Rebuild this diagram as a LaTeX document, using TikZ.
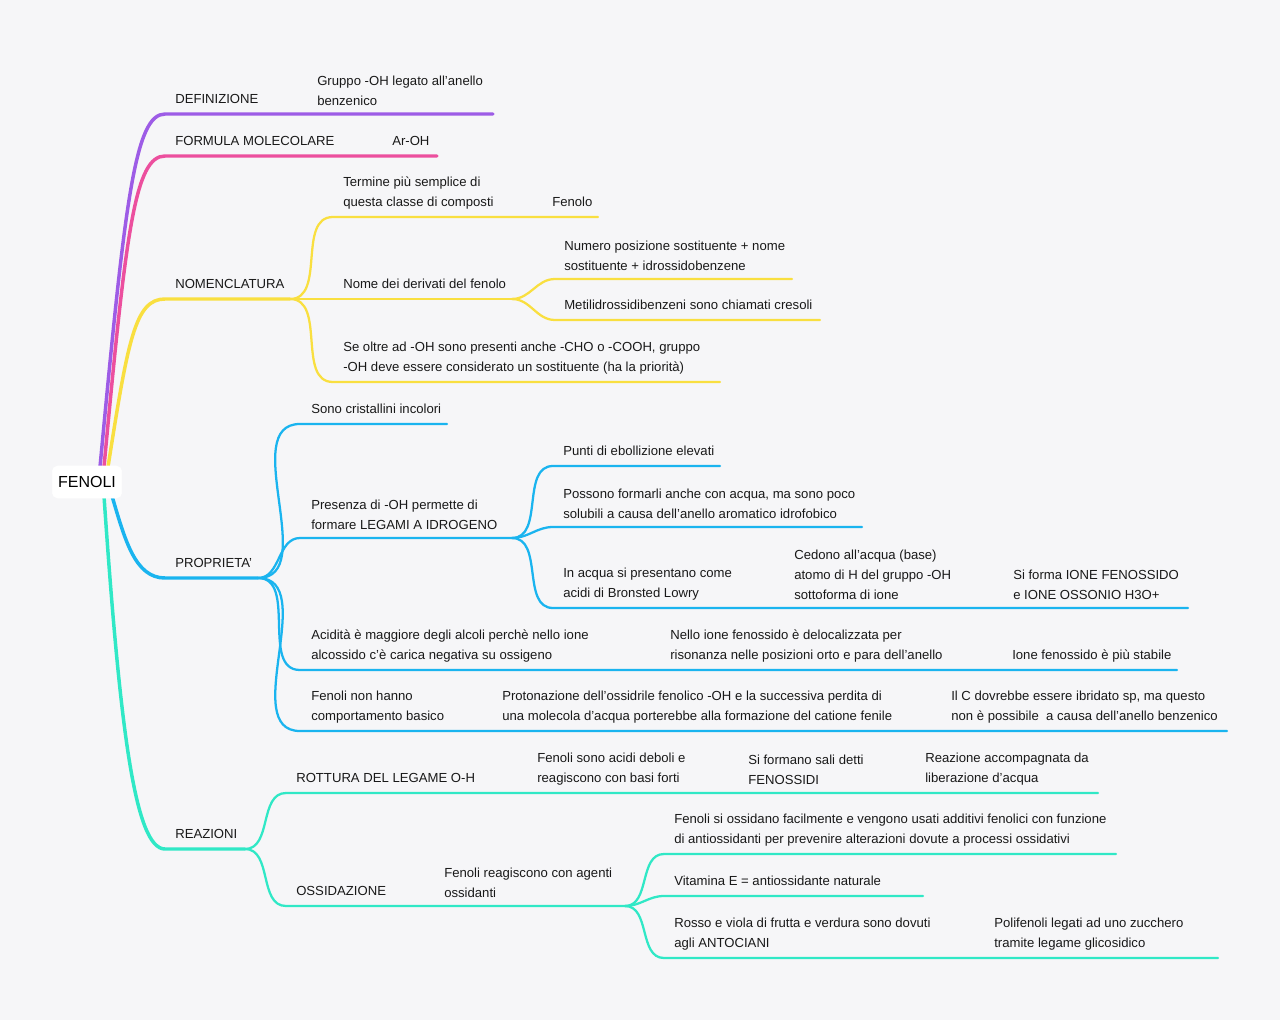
\documentclass[tikz,border=0pt]{standalone}
\usepackage{fontspec}
\setmainfont{Liberation Sans}
\definecolor{cpur}{HTML}{9D5CE6}
\definecolor{cpink}{HTML}{EC4F9E}
\definecolor{cyel}{HTML}{F9DF40}
\definecolor{cblue}{HTML}{1AB4EF}
\definecolor{ccyan}{HTML}{30E8C6}
\definecolor{bg}{HTML}{F6F6F8}
\tikzset{
 lbl/.style={anchor=south west,inner sep=0pt,align=left,font=\fontsize{9.85}{15}\selectfont,text=black!90},
 thick1/.style={line width=2.6pt,line cap=round},
 thin1/.style={line width=1.7pt,line cap=round},
}
\newcommand\lbl[4]{\node[lbl] (#1) at (#2,#3-8) {\vphantom{g}#4};}
\begin{document}
\begin{tikzpicture}[x=0.75pt,y=-0.75pt]
\fill[bg] (0,0) rectangle (1280,1020);
\useasboundingbox (0,0) rectangle (1280,1020);
% categories curves from root
\coordinate (rt1) at (100,467); \coordinate (rt2) at (104,467); \coordinate (rt3) at (108,467);
\coordinate (rb1) at (112,496); \coordinate (rb2) at (104,496);
\coordinate (cdef) at (165,114); \coordinate (cfor) at (165,156); \coordinate (cnom) at (165,299);
\coordinate (cpro) at (165,578); \coordinate (crea) at (165,849);
\draw[thick1,cpur] (rt1) .. controls (125,200) and (135,114) .. (cdef) -- (493,114);
\draw[thick1,cpink] (rt2) .. controls (126,230) and (135,156) .. (cfor) -- (437,156);
\draw[thick1,cyel] (rt3) .. controls (128,340) and (135,299) .. (cnom) -- (290,299);
\draw[thick1,cblue] (rb1) .. controls (125,540) and (135,578) .. (cpro) -- (258,578);
\draw[thick1,ccyan] (rb2) .. controls (120,730) and (135,849) .. (crea) -- (245,849);
\node[draw=white,fill=white,rounded corners=4pt,minimum width=52pt,minimum height=24pt,font=\fontsize{12}{14}\selectfont] (root) at (87,482) {FENOLI};
% DEFINIZIONE
\lbl{def}{175}{114}{DEFINIZIONE}
\lbl{defa}{317}{114}{Gruppo -OH legato all’anello\\benzenico}
\lbl{for}{175}{156}{FORMULA MOLECOLARE}
\lbl{fora}{392}{156}{Ar-OH}
% NOMENCLATURA
\lbl{nom}{175}{299}{NOMENCLATURA}
\coordinate (n0) at (290,299);
\draw[thin1,cyel] (n0) to[out=0,in=180] (333,217) -- (598,217);
\draw[thin1,cyel] (n0) -- (512,299);
\draw[thin1,cyel] (n0) to[out=0,in=180] (333,382) -- (720,382);
\draw[thin1,cyel] (512,299) to[out=0,in=180] (555,279) -- (792,279);
\draw[thin1,cyel] (512,299) to[out=0,in=180] (555,320) -- (820,320);
\lbl{n1}{343}{217}{Termine più semplice di\\questa classe di composti}
\lbl{n1a}{552}{217}{Fenolo}
\lbl{n2}{343}{299}{Nome dei derivati del fenolo}
\lbl{n2a}{564}{279}{Numero posizione sostituente + nome\\sostituente + idrossidobenzene}
\lbl{n2b}{564}{320}{Metilidrossidibenzeni sono chiamati cresoli}
\lbl{n3}{343}{382}{Se oltre ad -OH sono presenti anche -CHO o -COOH, gruppo\\-OH deve essere considerato un sostituente (ha la priorità)}
% PROPRIETA'
\lbl{pro}{175}{578}{PROPRIETA’}
\coordinate (p0) at (258,578);
\draw[thin1,cblue] (p0) to[out=0,in=180] (300,424) -- (447,424);
\draw[thin1,cblue] (p0) to[out=0,in=180] (300,538) -- (512,538);
\draw[thin1,cblue] (p0) to[out=0,in=180] (300,670) -- (1177,670);
\draw[thin1,cblue] (p0) to[out=0,in=180] (300,731) -- (1227,731);
\draw[thin1,cblue] (512,538) to[out=0,in=180] (553,466) -- (720,466);
\draw[thin1,cblue] (512,538) to[out=0,in=180] (553,527) -- (862,527);
\draw[thin1,cblue] (512,538) to[out=0,in=180] (553,608) -- (1188,608);
\lbl{p1}{311}{424}{Sono cristallini incolori}
\lbl{p2}{311}{538}{Presenza di -OH permette di\\formare LEGAMI A IDROGENO}
\lbl{p2a}{563}{466}{Punti di ebollizione elevati}
\lbl{p2b}{563}{527}{Possono formarli anche con acqua, ma sono poco\\solubili a causa dell’anello aromatico idrofobico}
\lbl{p2c}{563}{608}{In acqua si presentano come\\acidi di Bronsted Lowry}
\lbl{p2d}{794}{608}{Cedono all’acqua (base)\\atomo di H del gruppo -OH\\sottoforma di ione}
\lbl{p2e}{1013}{608}{Si forma IONE FENOSSIDO\\e IONE OSSONIO H3O+}
\lbl{p3}{311}{670}{Acidità è maggiore degli alcoli perchè nello ione\\alcossido c’è carica negativa su ossigeno}
\lbl{p3a}{670}{670}{Nello ione fenossido è delocalizzata per\\risonanza nelle posizioni orto e para dell’anello}
\lbl{p3b}{1012}{670}{Ione fenossido è più stabile}
\lbl{p4}{311}{731}{Fenoli non hanno\\comportamento basico}
\lbl{p4a}{502}{731}{Protonazione dell’ossidrile fenolico -OH e la successiva perdita di\\una molecola d’acqua porterebbe alla formazione del catione fenile}
\lbl{p4b}{951}{731}{Il C dovrebbe essere ibridato sp, ma questo\\non è possibile\ \ a causa dell’anello benzenico}
% REAZIONI
\lbl{rea}{175}{849}{REAZIONI}
\coordinate (r0) at (245,849);
\draw[thin1,ccyan] (r0) to[out=0,in=180] (286,793) -- (1098,793);
\draw[thin1,ccyan] (r0) to[out=0,in=180] (286,906) -- (625,906);
\draw[thin1,ccyan] (625,906) to[out=0,in=180] (664,854) -- (1116,854);
\draw[thin1,ccyan] (625,906) to[out=0,in=180] (664,896) -- (923,896);
\draw[thin1,ccyan] (625,906) to[out=0,in=180] (664,958) -- (1218,958);
\lbl{r1}{296}{793}{ROTTURA DEL LEGAME O-H}
\lbl{r1a}{537}{793}{Fenoli sono acidi deboli e\\reagiscono con basi forti}
\lbl{r1b}{748}{793}{Si formano sali detti\\FENOSSIDI}
\lbl{r1c}{925}{793}{Reazione accompagnata da\\liberazione d’acqua}
\lbl{r2}{296}{906}{OSSIDAZIONE}
\lbl{r2a}{444}{906}{Fenoli reagiscono con agenti\\ossidanti}
\lbl{r2b}{674}{854}{Fenoli si ossidano facilmente e vengono usati additivi fenolici con funzione\\di antiossidanti per prevenire alterazioni dovute a processi ossidativi}
\lbl{r2c}{674}{896}{Vitamina E = antiossidante naturale}
\lbl{r2d}{674}{958}{Rosso e viola di frutta e verdura sono dovuti\\agli ANTOCIANI}
\lbl{r2e}{994}{958}{Polifenoli legati ad uno zucchero\\tramite legame glicosidico}
\end{tikzpicture}
\end{document}
